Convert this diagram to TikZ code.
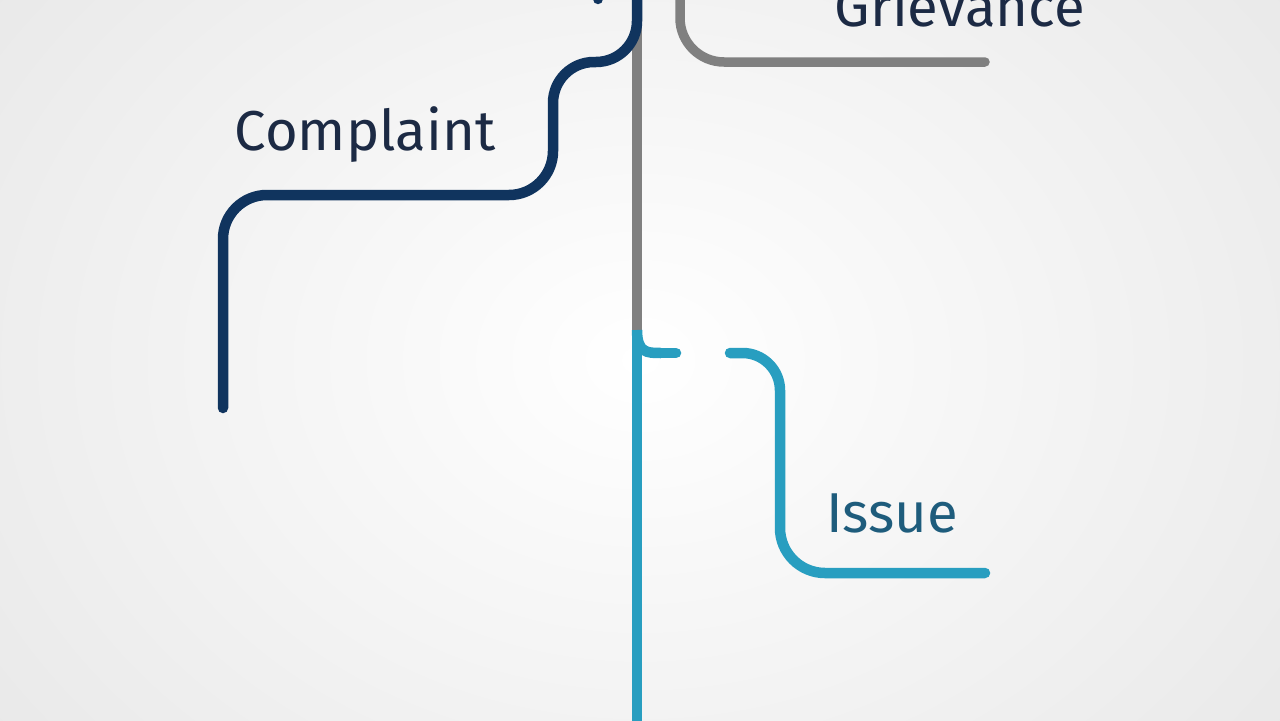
\documentclass[tikz,border=0pt]{standalone}
\usepackage{fontspec}
\setmainfont{Fira Sans}
\usepackage{tikz}
\usetikzlibrary{calc}

\definecolor{navyLine}{RGB}{16,52,94}
\definecolor{greyLine}{RGB}{128,128,128}
\definecolor{tealLine}{RGB}{40,158,192}
\definecolor{navyText}{RGB}{28,42,68}
\definecolor{tealText}{RGB}{30,92,124}
\definecolor{paper}{RGB}{232,232,232}

\begin{document}
\begin{tikzpicture}[x=0.02cm, y=-0.02cm]
    \tikzstyle{track} = [
      line width=0.21cm,
      line cap=round,
      rounded corners=0.88cm,
    ]
    \tikzstyle{label} = [
      anchor=base,
      inner sep=0pt,
      font=\fontsize{32}{36}\selectfont,
    ]

    % background
    \useasboundingbox (0,0) rectangle (1280,720);
    \clip (0,0) rectangle (1280,720);
    \shade[inner color=white, outer color=paper] (-200,-300) rectangle (1480,1020);

    \coordinate (spineTop)   at (637,-10);
    \coordinate (spineSplit) at (637,332);
    \coordinate (spineEnd)   at (637,730);

    % grievance line
    {
      \draw[track, draw=greyLine, line cap=butt, line width=0.19cm] (spineTop) -- (spineSplit);
      \coordinate (grievStart) at (680,-10);
      \coordinate (grievEnd)   at (985,62);
      \draw[track, draw=greyLine, line width=0.19cm] (grievStart) |- (grievEnd);
      \node[label, text=navyText] (grievLabel) at (960,27) {Grievance};
    }

    % complaint line
    {
      \coordinate (complStart) at (223,408);
      \coordinate (complBendA) at (553,195);
      \coordinate (complBendB) at (637,62);
      \draw[track, draw=navyLine] (complStart) |- (complBendA)
        [rounded corners=0.82cm] |- (complBendB) -- (spineTop);
      \coordinate (complTip) at (598,-10);
      \draw[track, draw=navyLine] (complTip) -- ([yshift=-0.18cm] complTip);
      \node[label, text=navyText] (complLabel) at (365,150) {Complaint};
    }

    % issue line
    {
      \draw[track, draw=tealLine, line cap=butt] (spineSplit) -- (spineEnd);
      \coordinate (hookEnd) at (676,353);
      \draw[track, draw=tealLine, line cap=butt] ([yshift=0.04cm] spineSplit)
        .. controls ($(spineSplit)+(0,21)$) and ($(spineSplit)+(10,21)$) .. ($(spineSplit)+(24,21)$);
      \draw[track, draw=tealLine] ($(spineSplit)+(22,21)$) -- (hookEnd);
      \coordinate (issueStart) at (730,353);
      \coordinate (issueBend)  at (780,353);
      \coordinate (issueEnd)   at (985,573);
      \draw[track, draw=tealLine, rounded corners=0.75cm] (issueStart) -- (issueBend)
        [rounded corners=0.9cm] |- (issueEnd);
      \node[label, text=tealText] (issueLabel) at (892,532) {Issue};
    }
\end{tikzpicture}
\end{document}
